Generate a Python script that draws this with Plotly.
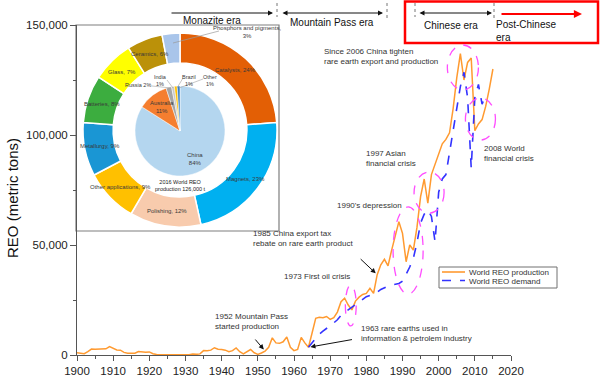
import math
import plotly.graph_objects as go

FONT = "Liberation Sans, Arial, sans-serif"

# ---------------- data ----------------
years = list(range(1900, 2016))
production = [
    1000, 800, 600, 1500, 2700, 2600, 2600, 2500, 2800, 3800,          # 1900s
    3000, 2300, 2200, 1200, 800, 700, 800, 1600, 1300, 1200,           # 1910s
    1400, 600, 200, 200, 150, 100, 300, 200, 100, 100,                 # 1920s
    100, 100, 500, 300, 500, 2000, 1900, 2200, 3300, 2600,             # 1930s
    2500, 2200, 1500, 2000, 3200, 1500, 500, 1500, 2500, 1000,         # 1940s
    300, 900, 1800, 3500, 7800, 5500, 5300, 6000, 8200, 3500,          # 1950s
    2000, 2500, 8000, 5500, 3500, 10000, 16700, 17100, 16900, 17500,   # 1960s
    16200, 17000, 19500, 24200, 25800, 22700, 20500, 24500, 26300, 27500,  # 1970s
    28000, 30300, 28000, 36500, 41000, 43500, 40500, 47700, 54000, 60600,  # 1980s
    55300, 42400, 50000, 47700, 58000, 72000, 80000, 69000, 82000, 87000,  # 1990s
    91000, 96000, 98000, 101000, 112000, 126000, 137000, 125000, 133000, 135000,  # 2000s
    102000, 105000, 107000, 113000, 121000, 130000,                    # 2010s
]
demand_years = list(range(1964, 2014))
demand = [
    3500, 5600, 7800, 9500, 10800, 12000, 13000, 14600, 16000, 18000,
    19300, 20500, 21800, 23200, 24500, 25600, 26500, 27100, 27700, 28500,
    29800, 30700, 31300, 31800, 32200, 32500, 33500, 36500, 40000, 44000,
    51000, 60000, 64000, 66000, 63000, 51500, 74000, 80000, 82000, 92000,
    102000, 112000, 122000, 128500, 117000, 85000, 117000, 123000, 114000, 118000,
]

use_labels = ["Catalysts", "Magnets", "Polishing", "Other applications", "Metallurgy",
              "Batteries", "Glass", "Ceramics", "Phosphors and pigments"]
use_pct = [24, 23, 12, 9, 9, 8, 7, 6, 3]
use_colors = ["#e35f05", "#00b0f0", "#f8cbad", "#ffc000", "#1a96d4",
              "#3cad3f", "#ffff00", "#bb9109", "#a9c5ea"]

country_labels = ["China", "Australia", "Russia", "India", "Brazil", "Other"]
country_pct = [84, 11, 2, 1, 1, 1]
country_colors = ["#b4d6ef", "#f57e2f", "#a5a5a5", "#c8c8c8", "#ffc000", "#3a7fc4"]

# ---------------- helpers (pixel -> paper) ----------------
L, T, W, H = 77, 25, 434, 330


def fx(x):
    return (x - L) / W


def fy(y):
    return (T + H - y) / H


fig = go.Figure()

fig.add_trace(go.Scatter(x=years, y=production, mode="lines", name="World REO production",
                         line=dict(color="#ff9a30", width=1.5)))
fig.add_trace(go.Scatter(x=demand_years, y=demand, mode="lines", name="World REO demand",
                         line=dict(color="#3333ff", width=1.6, dash="dash")))

# donut of uses
ocx, ocy, orad = 180, 130, 97
fig.add_trace(go.Pie(values=use_pct, labels=use_labels, hole=0.69, sort=False,
                     direction="clockwise", rotation=0, textinfo="none",
                     marker=dict(colors=use_colors, line=dict(color="white", width=1.5)),
                     domain=dict(x=[fx(ocx - orad), fx(ocx + orad)], y=[fy(ocy + orad), fy(ocy - orad)]),
                     showlegend=False))
# inner pie of producers
icx, icy, irad = 180, 131, 45
fig.add_trace(go.Pie(values=country_pct, labels=country_labels, sort=False,
                     direction="clockwise", rotation=0, textinfo="none",
                     marker=dict(colors=country_colors, line=dict(color="white", width=0.5)),
                     domain=dict(x=[fx(icx - irad), fx(icx + irad)], y=[fy(icy + irad), fy(icy - irad)]),
                     showlegend=False))

ann = []
shapes = []


def note(text, x, y, size=8, xanchor="left", color="#333333"):
    ann.append(dict(text=text, x=fx(x), y=fy(y), xref="paper", yref="paper", showarrow=False,
                    xanchor=xanchor, yanchor="middle", align="left" if xanchor == "left" else "center",
                    font=dict(size=size, color=color, family=FONT)))


def seg(x0, y0, x1, y1, color="#666", width=1, dash=None, layer="above"):
    line = dict(color=color, width=width)
    if dash:
        line["dash"] = dash
    shapes.append(dict(type="line", xref="paper", yref="paper", x0=fx(x0), y0=fy(y0),
                       x1=fx(x1), y1=fy(y1), line=line, layer=layer))


def harrow(x_tail, x_head, y, both=False, color="#111", width=1, size=1):
    ann.append(dict(text="", x=fx(x_head), y=fy(y), xref="paper", yref="paper",
                    ax=x_tail - x_head, ay=0, showarrow=True, arrowhead=2, startarrowhead=2,
                    arrowsize=size, startarrowsize=size, arrowwidth=width, arrowcolor=color,
                    arrowside="end+start" if both else "end", font=dict(size=1)))


# inset box
shapes.append(dict(type="rect", xref="paper", yref="paper", x0=fx(76), x1=fx(279), y0=fy(231), y1=fy(25),
                   line=dict(color="#7f7f7f", width=1.2), fillcolor="white", layer="below"))

# donut labels (at the middle of each ring segment)
tot = sum(use_pct)
cum = 0
for lab, p in zip(use_labels, use_pct):
    mid = (cum + p / 2) / tot * 2 * math.pi
    cum += p
    if lab.startswith("Phosphors"):
        continue
    r = 82
    note(f"{lab}, {p}%", ocx + r * math.sin(mid), ocy - r * math.cos(mid), size=6,
         xanchor="center", color="#3a3a3a")
note("Phosphors and pigments,<br>3%", 247, 32, size=6, xanchor="center", color="#3a3a3a")
seg(173, 43, 219, 31, color="#9a9a9a", width=0.7)

# inner pie labels
ctot = sum(country_pct)
cum = 0
for lab, p in zip(country_labels, country_pct):
    mid = (cum + p / 2) / ctot * 2 * math.pi
    cum += p
    if lab in ("China", "Australia"):
        r = 32 if lab == "China" else 30
        note(f"{lab}<br>{p}%", icx + r * math.sin(mid), icy - r * math.cos(mid), size=6,
             xanchor="center", color="#3a3a3a")
note("Russia 2%", 138, 85, size=5.5, xanchor="center", color="#3a3a3a")
note("India<br>1%", 160, 80.5, size=5.5, xanchor="center", color="#3a3a3a")
note("Brazil<br>1%", 189, 80.5, size=5.5, xanchor="center", color="#3a3a3a")
note("Other<br>1%", 210, 80.5, size=5.5, xanchor="center", color="#3a3a3a")
seg(152, 86, 171, 88, color="#a0a0a0", width=0.6)
seg(167, 80, 173, 88, color="#a0a0a0", width=0.6)
seg(183, 78, 177, 88, color="#a0a0a0", width=0.6)
seg(203, 79, 179, 88, color="#a0a0a0", width=0.6)
note("2016 World REO<br>production 126,000 t", 180, 185.5, size=5.5, xanchor="center", color="#222")

# era headers
note("Monazite era", 212, 20, size=10, xanchor="center", color="#111")
note("Mountain Pass era", 332, 22, size=10, xanchor="center", color="#111")
note("Chinese era", 451, 25, size=10, xanchor="center", color="#111")
note("Post-Chinese<br>era", 494, 30.5, size=10, xanchor="left", color="#111")
harrow(170, 273, 13)
harrow(281, 383, 13, both=True)
harrow(418, 492, 13, both=True)
harrow(500, 582, 14, color="#ff0000", width=1.8, size=0.9)
for xv, y1 in [(277, 17), (387, 18), (415, 17), (494, 18)]:
    seg(xv, 3, xv, y1, color="#777", width=1, dash="dot")
shapes.append(dict(type="rect", xref="paper", yref="paper", x0=fx(405), x1=fx(598), y0=fy(43), y1=fy(1.5),
                   line=dict(color="#ff0000", width=2.5), layer="above"))

# event notes
note("Since 2006 China tighten<br>rare earth export and production", 322, 57)
note("1997 Asian<br>financial crisis", 364, 158.5)
note("2008 World<br>financial crisis", 482, 153)
note("1990's depression", 335, 205)
note("1985 China export tax<br>rebate on rare earth product", 251, 238.5)
note("1973 First oil crisis", 282, 276)
note("1952 Mountain Pass<br>started production", 213, 321)
note("1963 rare earths used in<br>information & petrolem industry", 359, 333)

# arrows to data points
for yr, dx, dy in [(1952, -11, -13), (1964, 45, -8), (1983, -18, -17)]:
    ann.append(dict(text="", x=yr, y=production[years.index(yr)], xref="x", yref="y",
                    ax=dx, ay=dy, showarrow=True, arrowhead=2, arrowsize=1, arrowwidth=1,
                    arrowcolor="#111", standoff=2, font=dict(size=1)))

# dashed ellipses (data coordinates)
for x0, x1, y0, y1 in [(1974.2, 1977.2, 13200, 31800), (1987.4, 1995.7, 27700, 67300),
                       (1993.2, 2001.5, 64500, 83200), (2002.4, 2011.0, 120500, 140900),
                       (2007.4, 2015.7, 97700, 116800)]:
    shapes.append(dict(type="circle", xref="x", yref="y", x0=x0, x1=x1, y0=y0, y1=y1,
                       line=dict(color="#ff4dff", width=1.3, dash="dash"), layer="above"))

# legend (drawn compactly)
shapes.append(dict(type="rect", xref="paper", yref="paper", x0=fx(439), x1=fx(557), y0=fy(288), y1=fy(267),
                   line=dict(color="#707070", width=1), fillcolor="white", layer="above"))
seg(442, 272, 465, 272, color="#ff9a30", width=1.6)
seg(442, 280.5, 465, 280.5, color="#3333ff", width=1.6, dash="dash")
note("World REO production", 467, 272, size=8, color="#333")
note("World REO demand", 467, 281, size=8, color="#333")

# y axis title
ann.append(dict(text="REO (metric tons)", x=fx(13), y=fy(198), xref="paper", yref="paper",
                showarrow=False, textangle=-90, xanchor="center", yanchor="middle",
                font=dict(size=15, color="#111", family=FONT)))

fig.update_layout(
    width=600, height=380, margin=dict(l=L, r=600 - L - W, t=T, b=380 - T - H),
    paper_bgcolor="white", plot_bgcolor="white", showlegend=False,
    font=dict(family=FONT, size=12, color="#222"),
    annotations=ann, shapes=shapes,
    xaxis=dict(range=[1900, 2020], tickmode="linear", tick0=1900, dtick=10, ticks="outside",
               ticklen=5, tickcolor="#555", showline=True, linecolor="#555", linewidth=1,
               showgrid=False, zeroline=False, automargin=False, tickfont=dict(size=11.5, color="#222"),
               minor=dict(dtick=5, ticks="outside", ticklen=3, tickcolor="#555", showgrid=False)),
    yaxis=dict(range=[0, 150000], tickmode="linear", tick0=0, dtick=50000, tickformat=",d",
               ticks="outside", ticklen=6, tickcolor="#555", showline=True, linecolor="#555",
               linewidth=1, showgrid=False, zeroline=False, automargin=False,
               tickfont=dict(size=11.5, color="#222"),
               minor=dict(dtick=25000, ticks="outside", ticklen=3, tickcolor="#555", showgrid=False)),
)

fig.write_html("out.html", config={"displayModeBar": False},
               post_script="document.body.style.margin='0px';document.body.style.overflow='hidden';")
